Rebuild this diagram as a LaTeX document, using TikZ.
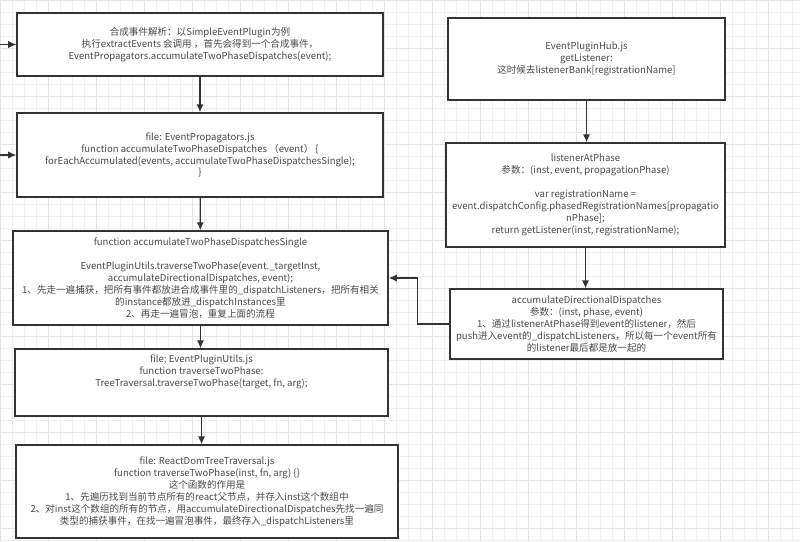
\documentclass[tikz,border=0pt]{standalone}
\usepackage{fontspec}
\setmainfont{Noto Sans CJK SC}
\usetikzlibrary{arrows.meta}
\definecolor{inkline}{HTML}{333333}
\definecolor{inktext}{HTML}{4A4A4A}
\tikzset{%
  >={Latex[width=1.8mm,length=2mm]},
  % Specifications for style of nodes:
       base/.style = {rectangle, draw=inkline, line width=1pt, fill=white,
                      inner sep=0pt, text centered, text=inktext,
                      font=\fontsize{6.8}{8.5}\selectfont},
    flowBox/.style = {base},
    hookBox/.style = {base},
  connector/.style = {->, draw=inkline, line width=0.9pt},
}

\begin{document}
\begin{tikzpicture}[x=0.025cm, y=-0.025cm, align=center]
  % background grid of the editor
  \useasboundingbox (0,0) rectangle (800,541);
  \fill[white] (0,0) rectangle (800,541);
  \draw[gray!12, line width=0.4pt, step=0.3cm] (0,0) grid (800,541);
  \draw[gray!22, line width=0.5pt, step=1.2cm] (0,0) grid (800,541);

  % Specification of nodes (position, size)
  \node (synthEvent)    [flowBox, minimum width=9.15cm, minimum height=1.575cm] at (200,44.5)
    {合成事件解析：以SimpleEventPlugin为例\\
     执行extractEvents 会调用 ，首先会得到一个合成事件，\\
     EventPropagators.accumulateTwoPhaseDispatches(event);};
  \node (propagators)   [flowBox, minimum width=9.15cm, minimum height=2.1cm] at (200,155)
    {file: EventPropagators.js\\
     function accumulateTwoPhaseDispatches （event） \{\\
     forEachAccumulated(events, accumulateTwoPhaseDispatchesSingle);\\
     \}};
  \node (singlePhase)   [flowBox, minimum width=9.375cm, minimum height=2.35cm] at (200.5,278)
    {function accumulateTwoPhaseDispatchesSingle\\[8.5pt]
     EventPluginUtils.traverseTwoPhase(event.\_targetInst,\\
     accumulateDirectionalDispatches, event);\\
     1、先走一遍捕获，把所有事件都放进合成事件里的\_dispatchListeners，把所有相关\\
     的instance都放进\_dispatchInstances里\\
     2、再走一遍冒泡，重复上面的流程};
  \node (pluginUtils)   [flowBox, minimum width=9.325cm, minimum height=1.675cm] at (201.5,382.5)
    {file; EventPluginUtils.js\\
     function traverseTwoPhase:\\
     TreeTraversal.traverseTwoPhase(target, fn, arg);\\[8pt]\mbox{}};
  \node (treeTraversal) [flowBox, minimum width=9.55cm, minimum height=2.325cm] at (207,491.5)
    {file: ReactDomTreeTraversal.js\\
     function traverseTwoPhase(inst, fn, arg) \{\}\\
     这个函数的作用是\\
     1、先遍历找到当前节点所有的react父节点，并存入inst这个数组中\\
     2、对inst这个数组的所有的节点，用accumulateDirectionalDispatches先找一遍同\\
     类型的捕获事件，在找一遍冒泡事件，最终存入\_dispatchListeners里};

  \node (pluginHub)     [hookBox, minimum width=6.925cm, minimum height=2.05cm] at (586.5,59)
    {EventPluginHub.js\\
     getListener:\\
     这时候去listenerBank[registrationName]};
  \node (atPhase)       [hookBox, minimum width=6.975cm, minimum height=2.6cm] at (585.5,195)
    {listenerAtPhase\\
     参数：(inst, event, propagationPhase)\\[8.5pt]
     var registrationName =\\
     event.dispatchConfig.phasedRegistrationNames[propagatio\\
     nPhase];\\
     return getListener(inst, registrationName);};
  \node (directional)   [hookBox, minimum width=6.825cm, minimum height=1.75cm] at (586.5,324)
    {accumulateDirectionalDispatches\\
     参数：(inst, phase, event)\\
     1、通过listenerAtPhase得到event的listener，然后\\
     push进入event的\_dispatchListeners，所以每一个event所有\\
     的listener最后都是放一起的};

  % loose ends coming in from the left
  \coordinate (fromLeftA) at (0,44.5);
  \coordinate (fromLeftB) at (0,155);

  % Specification of lines between nodes specified above
  \draw[connector] (fromLeftA) -- (synthEvent);
  \draw[connector] (fromLeftB) -- (propagators);
  \draw[connector] (synthEvent) -- (propagators);
  \draw[connector] (propagators) -- (singlePhase);
  \draw[connector] (singlePhase.south) -- (singlePhase.south |- pluginUtils.north);
  \draw[connector] (pluginUtils.south) -- (pluginUtils.south |- treeTraversal.north);
  \draw[connector] (pluginHub.south) -- (pluginHub.south |- atPhase.north);
  \draw[connector] (atPhase.south) -- (atPhase.south |- directional.north);
  \draw[connector] (directional.west) -- ++(-32,0) |- (singlePhase.east);
\end{tikzpicture}
\end{document}
